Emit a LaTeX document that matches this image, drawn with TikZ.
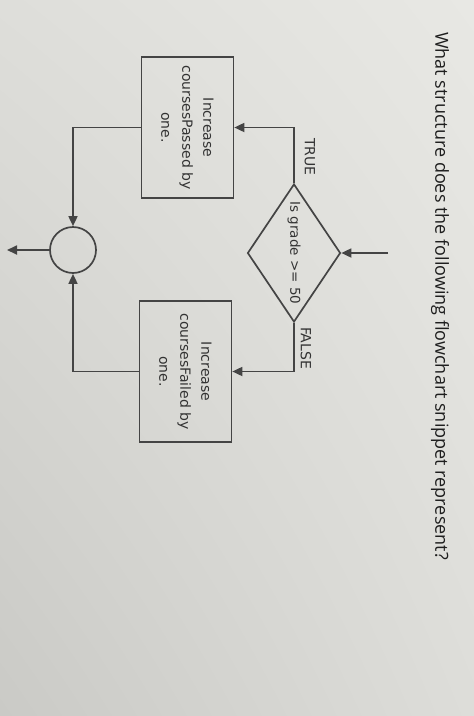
\documentclass[tikz,border=0pt]{standalone}
\usepackage{fontspec}
\setmainfont{Open Sans}
\newfontfamily\boxfont{DejaVu Sans}
\usetikzlibrary{shapes.geometric,arrows.meta,shadings}
\definecolor{bgul}{HTML}{DEDEDA}
\definecolor{bgur}{HTML}{E8E8E4}
\definecolor{bgll}{HTML}{CACAC6}
\definecolor{bglr}{HTML}{DDDDD9}
\definecolor{linec}{HTML}{444444}
\definecolor{txtc}{HTML}{333333}
\definecolor{qc}{HTML}{1E1E1E}
\begin{document}
\begin{tikzpicture}[x=1pt,y=-1pt,
  flowline/.style={draw=linec,line width=1.7pt},
  arr/.style={flowline,-{Triangle[length=10pt,width=9pt]}},
  procbox/.style={draw=linec,line width=1.7pt,rotate=-90,minimum width=141pt,minimum height=92pt,inner sep=2pt,align=center,font=\boxfont\fontsize{14}{21}\selectfont,text=txtc},
  decbox/.style={diamond,draw=linec,line width=1.7pt,rotate=-90,minimum width=138pt,minimum height=93pt,inner sep=0pt,aspect=1.5,font=\boxfont\fontsize{13.5}{20}\selectfont,text=txtc},
  lbl/.style={rotate=-90,font=\boxfont\fontsize{14}{16}\selectfont,text=txtc},
  joint/.style={circle,draw=linec,line width=1.7pt,minimum size=46pt,inner sep=0pt}
]
\useasboundingbox (0,0) rectangle (474,716);
\shade[upper left=bgul,upper right=bgur,lower left=bgll,lower right=bglr] (0,0) rectangle (474,716);

\node[rotate=-90,font=\fontsize{18}{22}\selectfont,text=qc] (q) at (440,296) {What structure does the following flowchart snippet represent?};

\node[procbox] (box1) at (187.5,127.5) {Increase\\coursesPassed by\\one.};
\node[procbox] (box2) at (185.5,371.5) {Increase\\coursesFailed by\\one.};
\node[decbox] (dec) at (294,253) {Is grade >= 50};
\node[joint] (circ) at (73,250) {};

\node[lbl] (tl) at (310,157) {TRUE};
\node[lbl] (fl) at (306,348) {FALSE};

\coordinate (inp) at (388,253);
\coordinate (outp) at (7,250);

\draw[arr] (inp) -- (dec.north);
\draw[arr] (dec.west) |- (box1.north);
\draw[arr] (dec.east) |- (box2.north);
\draw[arr] (box1.south) -| (circ.north);
\draw[arr] (box2.south) -| (circ.south);
\draw[arr] (circ.west) -- (outp);
\end{tikzpicture}
\end{document}
